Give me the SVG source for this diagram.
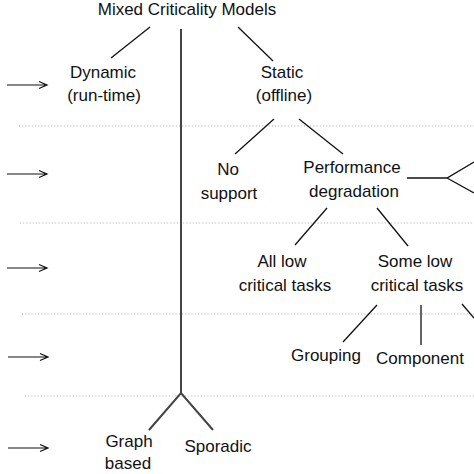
<svg xmlns="http://www.w3.org/2000/svg" width="474" height="474" viewBox="0 0 474 474">
<style>
text{font-family:"Liberation Sans",Arial,sans-serif;font-size:17px;fill:#111;text-anchor:middle}
.e{stroke:#111;stroke-width:1.3;fill:none}
.v{stroke:#444;stroke-width:2;fill:none}
.d{stroke:#aaa;stroke-width:1;stroke-dasharray:1 2.2;fill:none}
.a{stroke:#111;stroke-width:1.2;fill:none}
</style>
<rect width="474" height="474" fill="#fff"/>
<g id="separators">
<line class="d" x1="19" y1="126" x2="474" y2="126"/>
<line class="d" x1="20" y1="223" x2="474" y2="223"/>
<line class="d" x1="22" y1="314" x2="474" y2="314"/>
<line class="d" x1="25" y1="396" x2="474" y2="396"/>
</g>
<g id="level-arrows">
<path class="a" d="M7 85H47M39 81.5L47 85L39 88.5"/>
<path class="a" d="M7 174H47M39 170.5L47 174L39 177.5"/>
<path class="a" d="M7 268H47M39 264.5L47 268L39 271.5"/>
<path class="a" d="M8 357H48M40 353.5L48 357L40 360.5"/>
<path class="a" d="M8 448H48M40 444.5L48 448L40 451.5"/>
</g>
<g id="connectors">
<line class="e" x1="150" y1="27" x2="111" y2="58"/>
<line class="e" x1="238" y1="27" x2="273" y2="61"/>
<path class="v" d="M181 29V393M149 430L181 393L213 430"/>
<line class="e" x1="274" y1="119" x2="235" y2="154"/>
<line class="e" x1="299" y1="119" x2="343" y2="154"/>
<path class="e" d="M407 178H447L474 162M447 178L474 193"/>
<line class="e" x1="327" y1="208" x2="295" y2="245"/>
<line class="e" x1="377" y1="208" x2="408" y2="246"/>
<line class="e" x1="377" y1="305" x2="343" y2="342"/>
<line class="e" x1="421" y1="305" x2="421" y2="345"/>
<line class="e" x1="462" y1="304" x2="474" y2="318"/>
</g>
<g id="root"><text x="187" y="15">Mixed Criticality Models</text></g>
<g id="dynamic"><text x="103" y="78">Dynamic</text><text x="104" y="101">(run-time)</text></g>
<g id="static"><text x="282" y="78">Static</text><text x="284" y="101">(offline)</text></g>
<g id="no-support"><text x="228" y="175">No</text><text x="229" y="199">support</text></g>
<g id="performance-degradation"><text x="352" y="173">Performance</text><text x="354" y="197">degradation</text></g>
<g id="all-low"><text x="282" y="267">All low</text><text x="285" y="291">critical tasks</text></g>
<g id="some-low"><text x="415" y="267">Some low</text><text x="417" y="291">critical tasks</text></g>
<g id="grouping"><text x="326" y="361">Grouping</text></g>
<g id="component"><text x="420" y="364">Component</text></g>
<g id="graph-based"><text x="129" y="447">Graph</text><text x="128" y="469">based</text></g>
<g id="sporadic"><text x="218" y="452">Sporadic</text></g>
</svg>
